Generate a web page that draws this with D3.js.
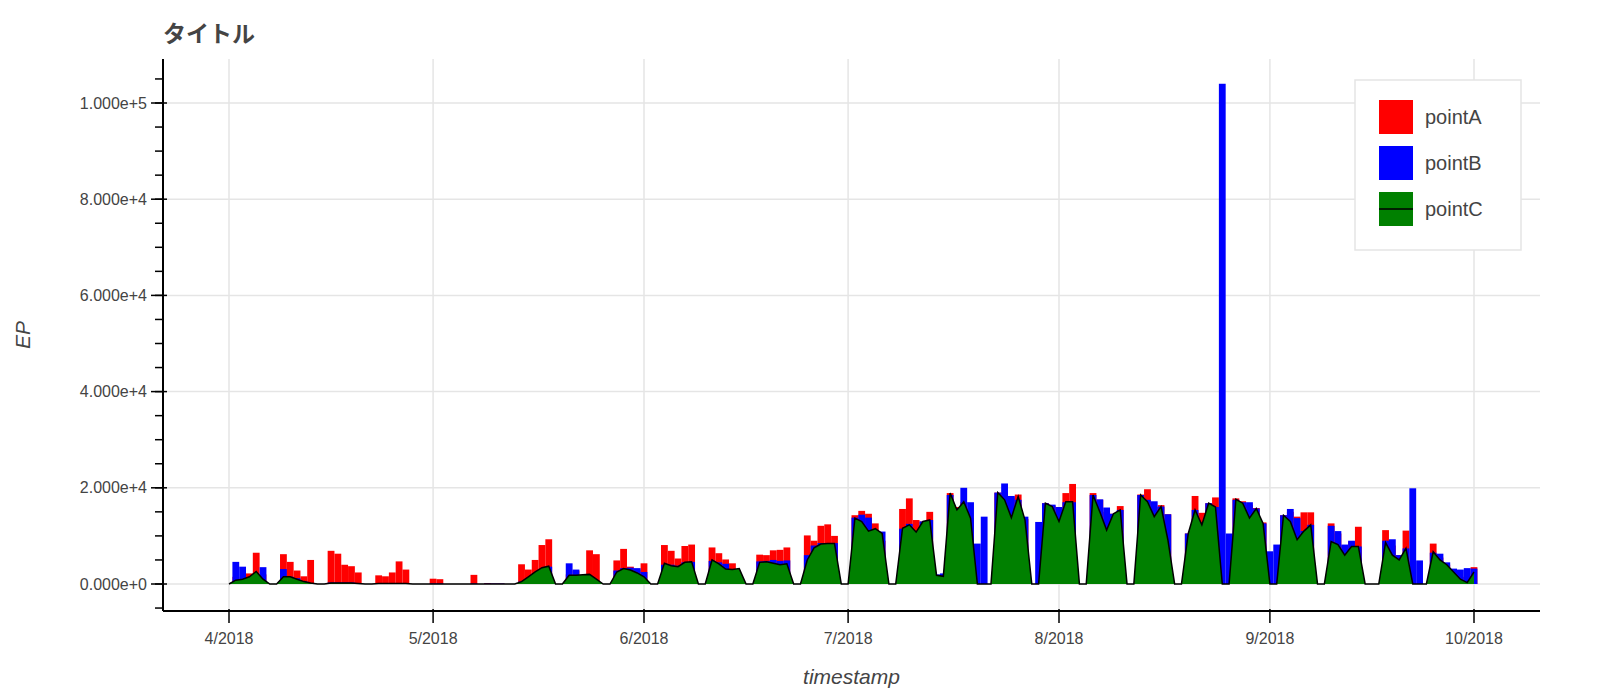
<!DOCTYPE html>
<html>
<head>
<meta charset="utf-8">
<script src="https://cdn.jsdelivr.net/npm/d3@7"></script>
<style>
  body { margin: 0; background: #fff; }
  svg text { font-family: "Liberation Sans", "Noto Sans CJK JP", sans-serif; }
</style>
</head>
<body>
<div id="chart"></div>
<script>
// daily values from 2018-04-01 to 2018-10-01, one row per week (Sun..Sat)
const startDate = "2018-04-01"

const pointA = [
  0,1500,1000,2200,6500,2000,0,
  0,6200,4600,2800,1600,5000,0,
  0,6900,6300,4000,3700,2400,0,
  0,1800,1600,2400,4700,3000,0,
  0,0,1100,1000,0,0,0,
  0,1900,0,200,100,100,0,
  0,4100,3000,5000,8100,9300,0,
  0,2000,2800,1500,7000,6200,0,
  0,4900,7300,3600,3000,4300,0,
  0,8100,6900,5300,7900,8200,0,
  0,7600,6400,5100,4300,1500,0,
  0,6100,6000,7000,7100,7600,0,
  0,10100,9000,12100,12400,10000,0,
  0,14300,15200,14600,12600,9000,0,
  0,15600,17800,13300,13000,15000,1500,
  1500,18900,16000,17000,13700,0,0,
  0,19000,19000,18000,18600,13500,0,
  0,16800,16300,16000,18900,20800,0,
  0,18900,17500,15000,14600,16200,0,
  0,18600,19700,16000,16400,14500,0,
  0,10500,18300,14800,16800,18000,0,
  0,17800,17200,16500,15800,12800,0,
  0,14300,15000,14000,14900,14900,0,
  0,12600,10500,8000,8800,11900,0,
  0,0,11200,8000,6000,11100,0,
  0,0,8400,5500,4000,2500,1500,
  1000,3500
]

const pointB = [
  0,4600,3600,1000,1500,3500,0,
  0,3100,1500,1200,500,200,0,
  0,300,300,300,300,200,0,
  0,200,200,200,200,200,0,
  0,0,100,100,0,0,0,
  0,100,0,100,100,100,0,
  0,500,1000,2000,3000,3600,0,
  0,4300,3000,1500,1000,500,0,
  0,2800,3300,3400,3300,2500,0,
  0,4000,4000,3800,4500,4600,0,
  0,4800,4500,4200,2800,1500,0,
  0,4700,4800,5000,4800,4900,0,
  0,6000,8000,8500,8500,8500,0,
  0,13800,14400,13800,10000,10900,0,
  0,11500,12500,10900,13000,13300,2000,
  2200,18500,15800,20000,17000,8400,14000,
  0,19000,20900,18300,17500,14000,0,
  12900,16800,16500,16000,17000,17000,0,
  0,18500,17600,15900,14600,15400,0,
  0,18500,17500,17200,16100,14500,0,
  0,10500,15400,12300,16800,16000,104000,
  10500,17500,17000,17000,15700,12600,6800,
  8200,14300,15600,13700,11000,12300,0,
  0,12100,11000,8200,9000,7800,0,
  0,0,9000,9300,6000,7400,19900,
  4900,0,6500,6300,4500,3200,3000,
  3300,3200
]

const pointC = [
  0,800,1000,1500,2600,1000,0,
  0,1500,1500,1000,500,200,0,
  0,200,200,200,200,100,0,
  0,100,100,100,100,100,0,
  0,0,0,0,0,0,0,
  0,0,0,0,0,0,0,
  0,500,1500,2500,3400,3700,0,
  0,1800,1800,1900,2000,1000,0,
  0,2500,3200,2900,2300,1500,0,
  0,4300,3800,3600,4500,4600,0,
  0,5000,4200,3100,3000,3200,0,
  0,4500,4600,4300,4000,4200,0,
  0,5000,7500,8300,8400,8400,0,
  0,13700,13000,11000,11500,10500,0,
  0,11600,12300,10800,13000,13300,1800,
  1600,18900,15400,17100,13700,0,0,
  0,19000,17500,13800,18200,13300,0,
  0,16800,16100,13000,17100,17100,0,
  0,18500,15000,11200,14600,15400,0,
  0,18500,17100,14000,16100,9200,0,
  0,10500,15400,12300,16800,16000,0,
  0,17600,16800,13700,15700,12600,0,
  0,14300,13000,9200,11000,12300,0,
  0,8800,8200,6000,7800,7800,0,
  0,0,8600,6000,5000,7400,0,
  0,0,6700,5000,4000,2500,1000,
  300,2500
]

const yTicks = [0, 20000, 40000, 60000, 80000, 100000]
const xTickDates = ["2018-04-01","2018-05-01","2018-06-01","2018-07-01","2018-08-01","2018-09-01","2018-10-01"]
const legendNames = ["pointA", "pointB", "pointC"]
const colors = {pointA: "red", pointB: "blue", pointC: "green"}

const parse = d3.timeParse("%Y-%m-%d")
const day0 = parse(startDate)
const data = pointA.map((a, i) => ({
  date: d3.timeDay.offset(day0, i), a: a, b: pointB[i], c: pointC[i]
}))

const W = 1600, H = 700
const plot = {left: 163, right: 1540, top: 59, bottom: 611}

const svg = d3.select("#chart").append("svg")
  .attr("width", W).attr("height", H)

const x = d3.scaleTime()
  .domain([parse("2018-04-01"), parse("2018-10-01")])
  .range([229, 1474])
const y = d3.scaleLinear()
  .domain([0, 100000])
  .range([584, 103])

// grid
const grid = svg.append("g")
grid.selectAll(".vg").data(xTickDates).enter().append("line")
  .attr("x1", d => x(parse(d))).attr("x2", d => x(parse(d)))
  .attr("y1", plot.top).attr("y2", plot.bottom)
  .attr("stroke", "#e5e5e5").attr("stroke-width", 1.5)
grid.selectAll(".hg").data(yTicks).enter().append("line")
  .attr("x1", plot.left).attr("x2", plot.right)
  .attr("y1", d => y(d)).attr("y2", d => y(d))
  .attr("stroke", "#e5e5e5").attr("stroke-width", 1.5)

const dayW = x(d3.timeDay.offset(day0, 1)) - x(day0)
const clip = svg.append("clipPath").attr("id", "clip").append("rect")
  .attr("x", plot.left).attr("y", plot.top)
  .attr("width", plot.right - plot.left).attr("height", plot.bottom - plot.top)
const g = svg.append("g").attr("clip-path", "url(#clip)")

g.selectAll(".barA").data(data.filter(d => d.a > 0)).enter().append("rect")
  .attr("x", d => x(d.date) - dayW / 2).attr("width", dayW)
  .attr("y", d => y(d.a)).attr("height", d => y(0) - y(d.a))
  .attr("fill", colors.pointA)
g.selectAll(".barB").data(data.filter(d => d.b > 0)).enter().append("rect")
  .attr("x", d => x(d.date) - dayW / 2).attr("width", dayW)
  .attr("y", d => y(d.b)).attr("height", d => y(0) - y(d.b))
  .attr("fill", colors.pointB)

const area = d3.area().x(d => x(d.date)).y0(y(0)).y1(d => y(d.c))
g.append("path").datum(data).attr("d", area).attr("fill", colors.pointC)
const line = d3.line().x(d => x(d.date)).y(d => y(d.c))
g.append("path").datum(data).attr("d", line)
  .attr("fill", "none").attr("stroke", "black").attr("stroke-width", 1.5)

// axes
const fmtY = d => d.toExponential(3).replace("e+", "e+")
const yAxis = svg.append("g").attr("transform", `translate(${plot.left},0)`)
yAxis.append("line").attr("x1", 0).attr("x2", 0).attr("y1", plot.top).attr("y2", plot.bottom)
  .attr("stroke", "black").attr("stroke-width", 2)
const minor = d3.range(-5000, 110000, 5000)
yAxis.selectAll(".mi").data(minor.filter(v => y(v) > plot.top && y(v) < plot.bottom)).enter().append("line")
  .attr("x1", -8).attr("x2", 0).attr("y1", d => y(d)).attr("y2", d => y(d))
  .attr("stroke", "black").attr("stroke-width", 1.5)
yAxis.selectAll(".ma").data(yTicks).enter().append("line")
  .attr("x1", -12).attr("x2", 4).attr("y1", d => y(d)).attr("y2", d => y(d))
  .attr("stroke", "black").attr("stroke-width", 1.5)
yAxis.selectAll(".lb").data(yTicks).enter().append("text")
  .attr("x", -16).attr("y", d => y(d)).attr("dy", "0.35em")
  .attr("text-anchor", "end").attr("font-size", 16).attr("fill", "#444")
  .text(fmtY)

const xAxis = svg.append("g").attr("transform", `translate(0,${plot.bottom})`)
xAxis.append("line").attr("x1", plot.left).attr("x2", plot.right)
  .attr("stroke", "black").attr("stroke-width", 2)
xAxis.selectAll(".ma").data(xTickDates).enter().append("line")
  .attr("x1", d => x(parse(d))).attr("x2", d => x(parse(d)))
  .attr("y1", -2).attr("y2", 12).attr("stroke", "black").attr("stroke-width", 1.5)
xAxis.selectAll(".lb").data(xTickDates).enter().append("text")
  .attr("x", d => x(parse(d))).attr("y", 33)
  .attr("text-anchor", "middle").attr("font-size", 16).attr("fill", "#444")
  .text(d => d3.timeFormat("%-m/%Y")(parse(d)))

svg.append("text").attr("x", (plot.left + plot.right) / 2).attr("y", 684)
  .attr("text-anchor", "middle").attr("font-size", 21).attr("font-style", "italic")
  .attr("fill", "#444").text("timestamp")
svg.append("text").attr("transform", "translate(30,335) rotate(-90)")
  .attr("text-anchor", "middle").attr("font-size", 21).attr("font-style", "italic")
  .attr("fill", "#444").text("EP")

svg.append("text").attr("x", 163).attr("y", 42)
  .attr("font-size", 23).attr("font-weight", "bold").attr("fill", "#444")
  .style("font-family", "'Noto Sans CJK JP', sans-serif")
  .text("タイトル")

// legend
const leg = svg.append("g").attr("transform", "translate(1355,80)")
leg.append("rect").attr("width", 166).attr("height", 170)
  .attr("fill", "white").attr("stroke", "#e5e5e5").attr("stroke-width", 1.5)
legendNames.forEach((n, i) => {
  const cy = 37 + i * 46
  leg.append("rect").attr("x", 24).attr("y", cy - 17).attr("width", 34).attr("height", 34)
    .attr("fill", colors[n])
  if (n === "pointC") {
    leg.append("line").attr("x1", 24).attr("x2", 58).attr("y1", cy).attr("y2", cy)
      .attr("stroke", "black").attr("stroke-width", 1.5)
  }
  leg.append("text").attr("x", 70).attr("y", cy).attr("dy", "0.35em")
    .attr("font-size", 20).attr("fill", "#444").text(n)
})
</script>
</body>
</html>
